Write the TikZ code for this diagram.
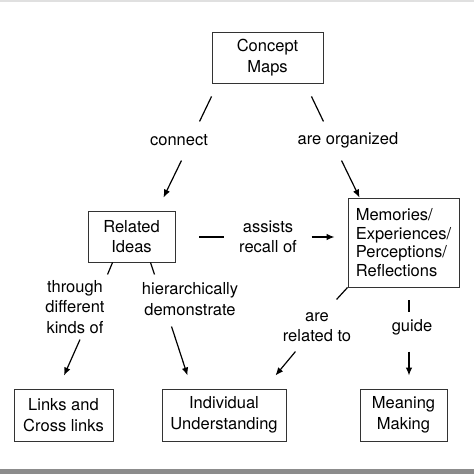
\documentclass[tikz,border=0pt]{standalone}
\usepackage{fontspec}
\setmainfont{TeX Gyre Heros}
\usepackage{tikz}
\usetikzlibrary{arrows.meta}

\tikzset{
  box/.style={draw=black!80, line width=0.9pt, align=center, inner sep=0pt,
    font=\fontsize{16.5}{20.5}\selectfont},
  lbl/.style={align=center, inner sep=0pt, font=\fontsize{16.5}{20.5}\selectfont},
  seg/.style={line width=1.2pt},
  arr/.style={seg, -{Latex[length=8pt,width=6.5pt]}}
}

\begin{document}
\begin{tikzpicture}[x=1pt, y=-1pt]
\useasboundingbox (0,0) rectangle (474,474);
\fill[black!12] (0,0) rectangle (474,2);
\fill[black!45] (0,469) rectangle (474,474);

% concepts
\node[box, minimum width=111pt, minimum height=51pt] (concept) at (267.5,57.5) {Concept\\Maps};
\node[box, minimum width=87pt, minimum height=51pt] (related) at (131.5,236.5) {Related\\Ideas};
\node[box, minimum width=111pt, minimum height=89pt, align=left,
  font=\fontsize{16.5}{18.5}\selectfont] (memories) at (403.5,242.5)
  {Memories/\\Experiences/\\Perceptions/\\Reflections};
\node[box, minimum width=99pt, minimum height=52pt] (links) at (63.5,415) {Links and\\Cross links};
\node[box, minimum width=124pt, minimum height=52pt] (individual) at (224,415) {Individual\\Understanding};
\node[box, minimum width=87pt, minimum height=52pt] (meaning) at (403.5,415) {Meaning\\Making};

% linking phrases
\path
(179,140) node[lbl] (connect) {connect}
(348,140) node[lbl] (organized) {are organized}
(268,237) node[lbl] (assists) {assists\\recall of}
(75,307) node[lbl] (through) {through\\different\\kinds of}
(190,299) node[lbl] (hierarch) {hierarchically\\demonstrate}
(317,327) node[lbl] (arerelated) {are\\related to}
(412,327) node[lbl] (guide) {guide};

% Concept Maps -> connect -> Related Ideas
\draw[seg] (concept.south west) ++(0,13) -- ++(-12,25);
\draw[arr] (related.north east) ++(6,-50) -- ++(-18,37);
% Concept Maps -> are organized -> Memories
\draw[seg] (concept.south east) ++(-12,13) -- ++(12,25);
\draw[arr] (memories.north west) ++(-6,-37) -- ++(18,37);
% Related Ideas -> assists recall of -> Memories
\draw[seg] (related.east) ++(24,0.5) -- ++(25,0);
\draw[arr] (memories.west) ++(-36,-5.5) -- ++(23,0);
% Related Ideas -> through different kinds of -> Links
\draw[seg] (related.south west) ++(25,0) -- ++(-5,12);
\draw[arr] (links.north) ++(16.5,-49) -- ++(-16,36);
% Related Ideas -> hierarchically demonstrate -> Individual
\draw[seg] (related.south east) ++(-25,0) -- ++(4,12);
\draw[arr] (individual.north west) ++(10,-62) -- ++(16,49);
% Memories -> are related to -> Individual
\draw[seg] (memories.south west) -- ++(-11,12);
\draw[arr] (individual.north east) ++(9,-37) -- ++(-20,24);
% Memories -> guide -> Meaning
\draw[seg] (memories.south) ++(5.5,13) -- ++(0,12);
\draw[arr] (meaning.north) ++(5.5,-37) -- ++(0,24);

\end{tikzpicture}
\end{document}
